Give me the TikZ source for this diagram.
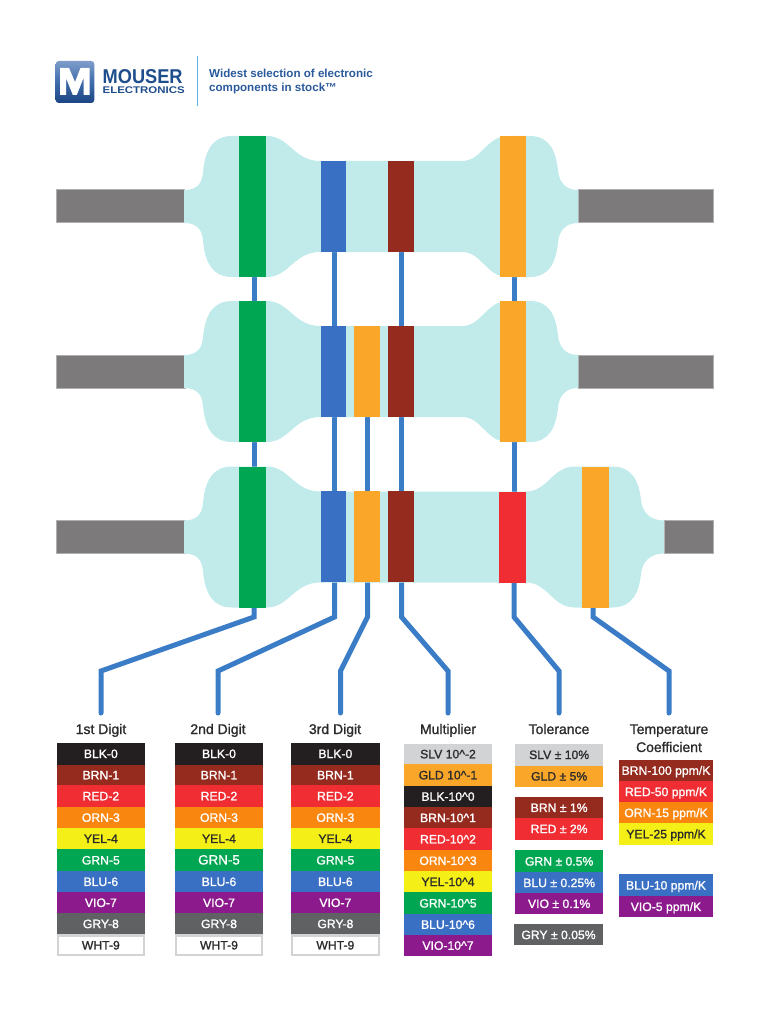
\documentclass[tikz,border=0pt]{standalone}
\usepackage{fontspec}
\setmainfont{Liberation Sans}
\newfontfamily\medfont[FakeBold=1.2]{Liberation Sans}
\usetikzlibrary{backgrounds,calc}
\definecolor{bodyc}{HTML}{C1EAEB}
\definecolor{wirec}{HTML}{3A7DC6}
\definecolor{leadc}{HTML}{7C7A7A}
\definecolor{cblk}{HTML}{231F20}
\definecolor{cbrn}{HTML}{952A1E}
\definecolor{cred}{HTML}{EF2D33}
\definecolor{corn}{HTML}{F9860F}
\definecolor{cyel}{HTML}{F4EF16}
\definecolor{cgrn}{HTML}{00A651}
\definecolor{cblu}{HTML}{3A70C4}
\definecolor{cvio}{HTML}{8C1A8D}
\definecolor{cgry}{HTML}{5F6163}
\definecolor{cslv}{HTML}{D1D3D4}
\definecolor{cgld}{HTML}{FAA629}
\definecolor{navy}{HTML}{1F4E8C}
\definecolor{tagc}{HTML}{2A5A9B}
\definecolor{headc}{HTML}{2B2B2B}
\definecolor{logotop}{HTML}{7F9DCB}
\definecolor{logomid}{HTML}{3F6CAB}
\definecolor{logobot}{HTML}{1B4583}
\definecolor{rulec}{HTML}{58B0E3}
\tikzset{
  plainbox/.style={inner sep=0pt,outer sep=0pt,draw=none},
  lead/.style={plainbox,fill=leadc,draw=leadc!60!white,line width=.5pt},
  cell/.style={plainbox,font=\medfont\fontsize{12.2}{12.2}\selectfont,text height=8.6pt,text depth=0pt,text=white},
  dark/.style={cell,text=headc},
  wire/.style={draw=wirec,line width=5pt,line join=miter,line cap=round},
  head/.style={inner sep=0pt,outer sep=0pt,anchor=base,font=\medfont\fontsize{14}{18}\selectfont,text=headc,align=center},
  bodyfill/.style={fill=bodyc,draw=none}
}
\newcommand\rbox[6]{\pgfmathsetmacro\rw{#4-#2}\pgfmathsetmacro\rh{#5-#3}\node[#6,minimum width=\rw pt,minimum height=\rh pt] (#1) at ({(#2+#4)/2},{(#3+#5)/2})}
% left half of a resistor body, centred on y=0
\newcommand\bodyleft{(184,-16.5) .. controls (196,-16.5) and (202,-22) .. (203,-34) .. controls (205,-58) and (214,-70.5) .. (232,-70.5) -- (267,-70.5) .. controls (289,-70.5) and (294,-45.5) .. (320,-45.5)}
\newcommand\bodyleftb{(320,45.5) .. controls (294,45.5) and (289,70.5) .. (267,70.5) -- (232,70.5) .. controls (214,70.5) and (205,58) .. (203,34) .. controls (202,22) and (196,16.5) .. (184,16.5) -- cycle}
% right half shared by the two upper resistors
\newcommand\bodyright{(462,-45.5) .. controls (482,-45.5) and (486,-70.5) .. (508,-70.5) -- (530,-70.5) .. controls (549,-70.5) and (556,-56) .. (558,-36) .. controls (559,-24) and (566,-16.5) .. (578,-16.5) -- (578,16.5) .. controls (566,16.5) and (559,24) .. (558,36) .. controls (556,56) and (549,70.5) .. (530,70.5) -- (508,70.5) .. controls (486,70.5) and (482,45.5) .. (462,45.5)}
\newcommand\digitcol[4]{%
  \rbox{#1k}{#2}{742.7}{#3}{764.7}{cell,fill=cblk}{BLK-0};
  \rbox{#1n}{#2}{764.7}{#3}{785.3}{cell,fill=cbrn}{BRN-1};
  \rbox{#1r}{#2}{785.3}{#3}{806.7}{cell,fill=cred}{RED-2};
  \rbox{#1o}{#2}{806.7}{#3}{828.3}{cell,fill=corn}{ORN-3};
  \rbox{#1y}{#2}{828.3}{#3}{849}{dark,fill=cyel}{YEL-4};
  \rbox{#1g}{#2}{849}{#3}{871.3}{cell,fill=cgrn}{{\fontsize{#4}{#4}\selectfont GRN-5}};
  \rbox{#1b}{#2}{871.3}{#3}{892}{cell,fill=cblu}{BLU-6};
  \rbox{#1v}{#2}{892}{#3}{913.3}{cell,fill=cvio}{VIO-7};
  \rbox{#1s}{#2}{913.3}{#3}{934.3}{cell,fill=cgry}{GRY-8};
  \rbox{#1w}{(#2+1.2)}{935.5}{(#3-1.2)}{954.8}{dark,fill=white,draw=cslv,line width=2.4pt}{WHT-9};
}
\begin{document}
\begin{tikzpicture}[x=1pt,y=-1pt]
\useasboundingbox (0,0) rectangle (768,1024);

% logo
\node[plainbox,rounded corners=3pt,top color=logotop,bottom color=logobot,middle color=logomid,minimum width=38.6pt,minimum height=42pt] (logo) at (75,82) {};
\fill[white] (60,68) -- (69,68) -- (75,82) -- (80.5,68) -- (89.5,68) -- (89.5,95) -- (83.5,95) -- (83.5,78) -- (76.8,95) -- (72.8,95) -- (66,78) -- (66,95) -- (60,95) -- cycle;
\node[inner sep=0pt,anchor=base west,text=navy,font=\bfseries\fontsize{20}{20}\selectfont] (mouser) at (102.5,84) {\scalebox{.91}[1]{MOUSER}};
\node[inner sep=0pt,anchor=base west,text=navy,font=\bfseries\fontsize{9.7}{9.7}\selectfont] (elec) at (102.5,93.5) {\scalebox{1.18}[1]{ELECTRONICS}};
\coordinate (ruleT) at (197,56);
\coordinate (ruleB) at (197,106.5);
\draw[draw=rulec,line width=.9pt] (ruleT) -- (ruleB);
\node[inner sep=0pt,anchor=base west,text=tagc,font=\bfseries\fontsize{11.6}{14}\selectfont] (tag1) at (209,78) {Widest selection of electronic};
\node[inner sep=0pt,anchor=base west,text=tagc,font=\bfseries\fontsize{11.6}{14}\selectfont] (tag2) at (209,92) {components in stock™};

% leads
\rbox{la}{56}{189.5}{184}{222.5}{lead}{};
\rbox{ra}{578}{189.5}{713}{222.5}{lead}{};
\rbox{lb}{56}{355.5}{185}{388}{lead}{};
\rbox{rb}{578}{355.5}{713}{388}{lead}{};
\rbox{lc}{56}{520.5}{185}{553}{lead}{};
\rbox{rc}{664}{520}{713}{553}{lead}{};

% bodies
\begin{scope}[shift={(0,206.5)}]
\fill[bodyfill] \bodyleft -- \bodyright -- \bodyleftb;
\end{scope}
\begin{scope}[shift={(0,371.5)}]
\fill[bodyfill] \bodyleft -- \bodyright -- \bodyleftb;
\end{scope}
\begin{scope}[shift={(0,537)}]
\fill[bodyfill] \bodyleft -- (526,-45.5) .. controls (548,-45.5) and (552,-70.5) .. (575,-70.5) -- (612,-70.5) .. controls (632,-70.5) and (639,-56) .. (641,-37) .. controls (642,-25) and (650,-16.5) .. (664,-16.5) -- (664,16.5) .. controls (650,16.5) and (642,25) .. (641,37) .. controls (639,56) and (632,70.5) .. (612,70.5) -- (575,70.5) .. controls (552,70.5) and (548,45.5) .. (526,45.5) -- \bodyleftb;
\end{scope}

% bands
\rbox{ga}{239}{136}{265.5}{277}{plainbox,fill=cgrn}{};
\rbox{ba}{321}{161}{346}{252}{plainbox,fill=cblu}{};
\rbox{na}{387.7}{161}{413.5}{252}{plainbox,fill=cbrn}{};
\rbox{oa}{500}{136}{525.5}{277}{plainbox,fill=cgld}{};
\rbox{gb}{239}{301}{265.5}{442}{plainbox,fill=cgrn}{};
\rbox{bb}{321}{326}{346}{417}{plainbox,fill=cblu}{};
\rbox{tb}{354}{326}{379.5}{417}{plainbox,fill=cgld}{};
\rbox{nb}{387.7}{326}{413.5}{417}{plainbox,fill=cbrn}{};
\rbox{ob}{500}{301}{525.5}{442}{plainbox,fill=cgld}{};
\rbox{gc}{239}{467}{265.5}{608}{plainbox,fill=cgrn}{};
\rbox{bc}{321}{491}{346}{582}{plainbox,fill=cblu}{};
\rbox{tc}{354}{491}{379.5}{582}{plainbox,fill=cgld}{};
\rbox{nc}{387.7}{491}{413.5}{582}{plainbox,fill=cbrn}{};
\rbox{rdc}{499.3}{491.5}{526}{582.5}{plainbox,fill=cred}{};
\rbox{oc}{582.3}{466.5}{608.7}{607.5}{plainbox,fill=cgld}{};

% connector way points
\coordinate (w1) at (254,617);   \coordinate (k1) at (101,671);  \coordinate (e1) at (101,713);
\coordinate (w2) at (334.5,617); \coordinate (k2) at (218,671);  \coordinate (e2) at (218,713);
\coordinate (w3) at (367.5,617); \coordinate (k3) at (340.5,671);\coordinate (e3) at (340.5,713);
\coordinate (w4) at (401.5,617); \coordinate (k4) at (448,671);  \coordinate (e4) at (448,713);
\coordinate (w5) at (514,617);   \coordinate (k5) at (559,671);  \coordinate (e5) at (559,713);
\coordinate (w6) at (593,617);   \coordinate (k6) at (669,671);  \coordinate (e6) at (669,713);

\begin{scope}[on background layer]
\draw[wire] (ga.south -| w1) -- (gb.north -| w1);
\draw[wire] (gb.south -| w1) -- (gc.north -| w1);
\draw[wire] (gc.south -| w1) -- (w1) -- (k1) -- (e1);
\draw[wire] (ba.south -| w2) -- (bb.north -| w2);
\draw[wire] (bb.south -| w2) -- (bc.north -| w2);
\draw[wire] (bc.south -| w2) -- (w2) -- (k2) -- (e2);
\draw[wire] (tb.south -| w3) -- (tc.north -| w3);
\draw[wire] (tc.south -| w3) -- (w3) -- (k3) -- (e3);
\draw[wire] (na.south -| w4) -- (nb.north -| w4);
\draw[wire] (nb.south -| w4) -- (nc.north -| w4);
\draw[wire] (nc.south -| w4) -- (w4) -- (k4) -- (e4);
\draw[wire] (oa.south -| w5) -- (ob.north -| w5);
\draw[wire] (ob.south -| w5) -- (rdc.north -| w5);
\draw[wire] (rdc.south -| w5) -- (w5) -- (k5) -- (e5);
\draw[wire] (oc.south -| w6) -- (w6) -- (k6) -- (e6);
\end{scope}

% headings
\node[head] (h1) at (101,734) {1st Digit};
\node[head] (h2) at (218,734) {2nd Digit};
\node[head] (h3) at (335,734) {3rd Digit};
\node[head] (h4) at (448,734) {Multiplier};
\node[head] (h5) at (559,734) {Tolerance};
\node[head] (h6) at (669,734) {Temperature};
\node[head] (h7) at (669,752) {Coefficient};

% digit columns
\digitcol{A}{56.7}{145}{12.2}
\digitcol{B}{174.7}{263.3}{13.4}
\digitcol{C}{290.7}{380}{12.2}

% multiplier
\def\xa{403.7}\def\xb{492.3}
\rbox{ms}{\xa}{743.7}{\xb}{764.3}{dark,fill=cslv}{SLV 10\textasciicircum-2};
\rbox{mg}{\xa}{764.3}{\xb}{785.7}{dark,fill=cgld}{GLD 10\textasciicircum-1};
\rbox{mk}{\xa}{785.7}{\xb}{807.3}{cell,fill=cblk}{BLK-10\textasciicircum0};
\rbox{mn}{\xa}{807.3}{\xb}{828.3}{cell,fill=cbrn}{BRN-10\textasciicircum1};
\rbox{mr}{\xa}{828.3}{\xb}{850}{cell,fill=cred}{RED-10\textasciicircum2};
\rbox{mo}{\xa}{850}{\xb}{871.3}{cell,fill=corn}{ORN-10\textasciicircum3};
\rbox{my}{\xa}{871.3}{\xb}{892.3}{dark,fill=cyel}{YEL-10\textasciicircum4};
\rbox{mgr}{\xa}{892.3}{\xb}{914}{cell,fill=cgrn}{GRN-10\textasciicircum5};
\rbox{mb}{\xa}{914}{\xb}{935}{cell,fill=cblu}{BLU-10\textasciicircum6};
\rbox{mv}{\xa}{935}{\xb}{956}{cell,fill=cvio}{VIO-10\textasciicircum7};

% tolerance
\def\xa{515}\def\xb{603.3}
\rbox{ts}{\xa}{743.7}{\xb}{765.7}{dark,fill=cslv}{SLV ± 10\%};
\rbox{tg}{\xa}{765.7}{\xb}{786.7}{dark,fill=cgld}{GLD ± 5\%};
\rbox{tn}{\xa}{797.3}{\xb}{818}{cell,fill=cbrn}{BRN ± 1\%};
\rbox{tr}{\xa}{818}{\xb}{839.7}{cell,fill=cred}{RED ± 2\%};
\rbox{tgr}{\xa}{850.3}{\xb}{872.3}{cell,fill=cgrn}{GRN ± 0.5\%};
\rbox{tbl}{\xa}{872.3}{\xb}{893.3}{cell,fill=cblu}{BLU ± 0.25\%};
\rbox{tv}{\xa}{893.3}{\xb}{914}{cell,fill=cvio}{VIO ± 0.1\%};
\rbox{ty}{513.7}{924.3}{\xb}{945.3}{cell,fill=cgry}{GRY ± 0.05\%};

% temperature coefficient
\def\xa{618.7}\def\xb{713.3}
\rbox{kn}{\xa}{759.7}{\xb}{781.3}{cell,fill=cbrn}{BRN-100 ppm/K};
\rbox{kr}{\xa}{781.3}{\xb}{802.3}{cell,fill=cred}{RED-50 ppm/K};
\rbox{ko}{\xa}{802.3}{\xb}{823.3}{cell,fill=corn}{ORN-15 ppm/K};
\rbox{ky}{\xa}{823.3}{\xb}{844.7}{dark,fill=cyel}{YEL-25 ppm/K};
\rbox{kb}{\xa}{874.3}{\xb}{896.3}{cell,fill=cblu}{BLU-10 ppm/K};
\rbox{kv}{\xa}{896.3}{\xb}{917}{cell,fill=cvio}{VIO-5 ppm/K};
\end{tikzpicture}
\end{document}
